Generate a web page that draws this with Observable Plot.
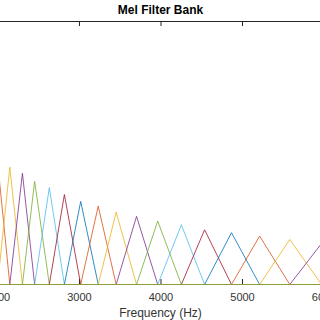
<!DOCTYPE html>
<html>
<head>
<meta charset="utf-8">
<script src="https://cdn.jsdelivr.net/npm/d3@7"></script>
<script src="https://cdn.jsdelivr.net/npm/@observablehq/plot@0.6"></script>
<style>
  html, body { margin: 0; padding: 0; background: #fff; }
  svg { display: block; }
</style>
</head>
<body>
<div id="chart"></div>
<script>
// Filter centre frequencies (Hz) (first/last are feet only)
const centers = [1850, 1995, 2145, 2300, 2450, 2630, 2815, 3015, 3230, 3450, 3700, 3960, 4250, 4535, 4865, 5210, 5580, 5970, 6375];
// Peak heights (relative to the top of the axes = 1)
const peaks = [null, 0.468, 0.446, 0.423, 0.392, 0.368, 0.342, 0.316, 0.298, 0.275, 0.259, 0.241, 0.227, 0.208, 0.197, 0.184, 0.171, 0.156, null];
const xTicks = [2000, 3000, 4000, 5000, 6000];
const colorOrder = ["#0072BD", "#D95319", "#EDB120", "#7E2F8E", "#77AC30", "#4DBEEE", "#A2142F"];

const points = [];
for (let k = 1; k < centers.length - 1; k++) {
  points.push({id: k, f: centers[k - 1], v: 0});
  points.push({id: k, f: centers[k], v: peaks[k]});
  points.push({id: k, f: centers[k + 1], v: 0});
}
const ids = d3.range(1, centers.length - 1);

const font = "'Liberation Sans', Arial, Helvetica, sans-serif";
const ink = "#262626";

const chart = Plot.plot({
  width: 320,
  height: 320,
  marginTop: 21,
  marginBottom: 36,
  marginLeft: 0,
  marginRight: 0,
  style: {fontFamily: font, background: "#fff", color: ink},
  x: {domain: [2031, 5957], axis: null},
  y: {domain: [0, 1], axis: null},
  color: {type: "ordinal", domain: ids, range: ids.map(k => colorOrder[k % 7])},
  marks: [
    Plot.frame({anchor: "top", stroke: ink, strokeWidth: 1}),
    Plot.ruleX(xTicks, {x: d => d, stroke: ink, insetBottom: 258}),
    Plot.ruleX(xTicks, {x: d => d, stroke: ink, insetTop: 258}),
    Plot.line(points, {x: "f", y: "v", z: "id", stroke: "id", strokeWidth: 0.9, strokeOpacity: 0.9, clip: true}),
    Plot.ruleY([0], {stroke: "#8a9e35", strokeWidth: 1.2}),
    Plot.text(xTicks, {x: d => d, text: d => String(d), frameAnchor: "bottom", lineAnchor: "middle", dy: 13, fontSize: 11, fill: "#333"}),
    Plot.text(["Frequency (Hz)"], {frameAnchor: "bottom", lineAnchor: "middle", dy: 29, fontSize: 12, fill: "#333"}),
    Plot.text(["Mel Filter Bank"], {frameAnchor: "top", lineAnchor: "middle", dy: -11, fontSize: 12, fontWeight: "bold", fill: "#000"})
  ]
});
document.getElementById("chart").appendChild(chart);
</script>
</body>
</html>
